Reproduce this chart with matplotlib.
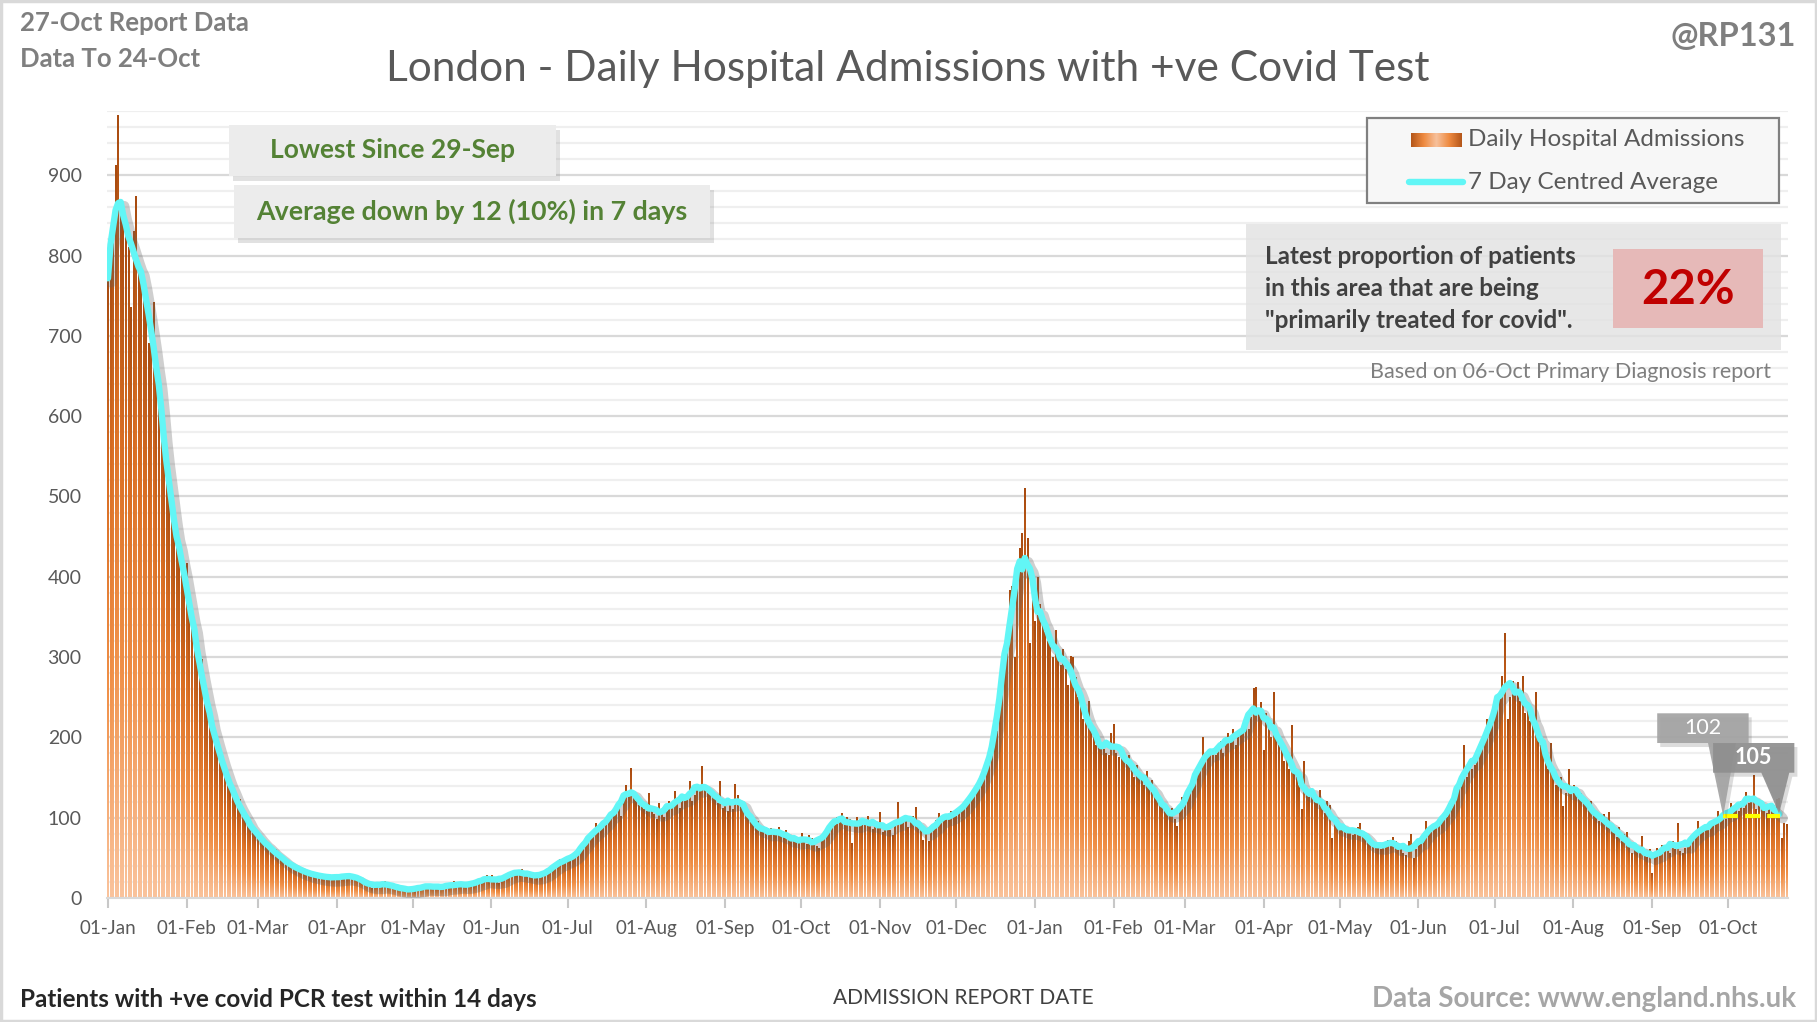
import numpy as np
import pandas as pd
import matplotlib
matplotlib.use("Agg")
import matplotlib.pyplot as plt
from matplotlib.patches import Rectangle, Polygon
from matplotlib.colors import LinearSegmentedColormap
import matplotlib.patheffects as pe

plt.rcParams['font.family'] = ['Lato', 'DejaVu Sans']

# ---------------- data ----------------
START_DATE = "2021-01-01"
# last days of Dec 2020, only used so the centred average exists on 01-Jan
LEAD_IN_DEC2020 = [680, 700, 690]

ADM_2021_0101_0331 = [
    770, 800, 850, 912, 975, 850, 840, 830, 810, 735,
    830, 874, 790, 770, 760, 745, 690, 720, 742, 660,
    630, 610, 575, 540, 505, 490, 455, 460, 440, 405,
    395, 417, 365, 345, 330, 310, 280, 297, 250, 240,
    225, 215, 200, 190, 178, 170, 160, 150, 140, 132,
    125, 118, 123, 105, 98, 95, 92, 86, 82, 78,
    76, 72, 68, 64, 61, 58, 61, 53, 50, 48,
    46, 43, 41, 40, 38, 36, 35, 33, 32, 31,
    30, 29, 28, 28, 27, 27, 26, 26, 25, 25]
ADM_2021_0401_0709 = [
    26, 25, 28, 27, 26, 29, 27, 28, 26, 24,
    22, 20, 18, 17, 12, 16, 17, 18, 16, 20,
    16, 17, 15, 14, 13, 12, 12, 11, 10, 12,
    10, 8, 13, 14, 15, 15, 14, 16, 14, 13,
    14, 13, 15, 14, 13, 16, 20, 17, 16, 16,
    17, 16, 18, 17, 16, 19, 21, 22, 23, 28,
    22, 28, 22, 21, 18, 23, 26, 30, 28, 33,
    32, 30, 31, 35, 32, 30, 28, 26, 31, 25,
    29, 28, 32, 30, 35, 38, 40, 42, 48, 48,
    45, 50, 45, 52, 54, 56, 60, 62, 70, 78]
ADM_2021_0710_1017 = [
    80, 78, 93, 82, 85, 90, 95, 100, 105, 108,
    112, 118, 102, 128, 140, 132, 161, 125, 120, 115,
    118, 110, 108, 130, 112, 104, 98, 118, 105, 100,
    108, 120, 116, 133, 118, 112, 122, 125, 130, 145,
    120, 128, 138, 140, 164, 135, 130, 132, 128, 125,
    118, 145, 112, 115, 108, 118, 110, 141, 128, 115,
    120, 110, 105, 100, 92, 88, 95, 85, 82, 80,
    84, 86, 80, 78, 88, 82, 76, 84, 75, 70,
    74, 72, 68, 80, 72, 66, 78, 74, 70, 64,
    62, 74, 80, 88, 85, 92, 96, 100, 102, 105]
ADM_2021_1018_2022_0125 = [
    92, 100, 98, 68, 95, 100, 97, 92, 98, 102,
    90, 85, 95, 88, 106, 82, 88, 90, 84, 78,
    90, 119, 95, 100, 98, 88, 96, 102, 113, 92,
    88, 72, 86, 70, 82, 90, 96, 105, 94, 98,
    100, 102, 108, 104, 102, 106, 110, 115, 120, 125,
    125, 130, 135, 140, 148, 155, 162, 170, 185, 200,
    207, 240, 284, 296, 330, 383, 388, 300, 400, 435,
    454, 510, 448, 317, 400, 344, 399, 365, 340, 330,
    320, 330, 300, 333, 300, 290, 310, 285, 265, 301,
    300, 275, 250, 240, 222, 230, 245, 210, 200, 190]
ADM_2022_0126_0425 = [
    200, 190, 185, 180, 178, 205, 216, 180, 175, 185,
    180, 172, 177, 160, 150, 165, 155, 148, 140, 157,
    138, 146, 125, 132, 120, 118, 112, 108, 102, 112,
    98, 89, 115, 125, 120, 130, 135, 140, 148, 155,
    165, 200, 170, 175, 180, 185, 178, 190, 195, 180,
    200, 205, 195, 210, 190, 200, 205, 215, 220, 210,
    225, 261, 262, 230, 244, 184, 230, 220, 200, 256,
    205, 190, 185, 170, 180, 160, 215, 155, 150, 140,
    110, 170, 135, 125, 130, 120, 118, 134, 122, 105]
ADM_2022_0426_0803 = [
    120, 115, 74, 100, 95, 90, 92, 85, 80, 82,
    78, 84, 88, 93, 80, 75, 70, 72, 68, 66,
    62, 60, 64, 68, 72, 66, 75, 70, 65, 62,
    55, 53, 70, 79, 49, 60, 65, 70, 78, 95,
    80, 85, 88, 92, 90, 95, 105, 100, 118, 112,
    120, 130, 140, 145, 190, 150, 170, 160, 165, 175,
    185, 190, 200, 222, 210, 215, 230, 240, 250, 276,
    329, 222, 250, 269, 260, 268, 245, 276, 230, 240,
    220, 215, 256, 205, 190, 185, 170, 160, 193, 150,
    140, 145, 150, 114, 130, 160, 135, 140, 128, 125]
ADM_2022_0804_1024 = [
    130, 125, 120, 110, 120, 105, 100, 95, 98, 104,
    90, 107, 85, 80, 75, 88, 70, 79, 82, 65,
    55, 60, 58, 62, 77, 55, 50, 60, 31, 52,
    62, 58, 65, 60, 68, 55, 70, 60, 93, 58,
    55, 62, 68, 72, 75, 78, 95, 80, 85, 88,
    88, 90, 92, 95, 108, 96, 100, 98, 108, 118,
    110, 115, 108, 120, 112, 131, 118, 122, 153, 110,
    115, 118, 110, 105, 115, 112, 115, 123, 124, 74,
    93, 91]

LOWEST_SINCE_DATE = "2022-09-29"
LOWEST_LEVEL = 102
LATEST_AVG = 105
PRIMARY_PCT = "22%"

daily = (ADM_2021_0101_0331 + ADM_2021_0401_0709 + ADM_2021_0710_1017 +
         ADM_2021_1018_2022_0125 + ADM_2022_0126_0425 +
         ADM_2022_0426_0803 + ADM_2022_0804_1024)
daily = np.array(daily, dtype=float)
dates = pd.date_range(START_DATE, periods=len(daily), freq="D")
x = np.arange(len(daily))
full = pd.Series(list(LEAD_IN_DEC2020) + list(daily))
avg = full.rolling(7, center=True).mean().iloc[len(LEAD_IN_DEC2020):].to_numpy()

# ---------------- figure ----------------
W, H = 1817, 1022
fig = plt.figure(figsize=(W / 100, H / 100), dpi=100)
fig.patch.set_facecolor("white")


def fx(px):
    return px / W


def fy(py):
    return 1 - py / H


ax_left, ax_right, ax_top, ax_bottom = 106.7, 1788, 111, 898
ax = fig.add_axes([fx(ax_left), fy(ax_bottom), (ax_right - ax_left) / W, (ax_bottom - ax_top) / H])
ax.set_facecolor("white")

# gradient bars
grad = np.linspace(0, 1, 128).reshape(-1, 1)
bar_cmap = LinearSegmentedColormap.from_list(
    "adm", ["#fac39c", "#f09048", "#da6f24", "#a84b10"])
bw = 0.31
for xi, h in zip(x, daily):
    ax.imshow(grad, cmap=bar_cmap, extent=(xi - bw, xi + bw, 0, h), origin="lower",
              aspect="auto", interpolation="bilinear", zorder=2)

# 7 day centred average
ax.plot(x, avg, color="#62f6f6", lw=4.6, zorder=5, solid_capstyle="round",
        solid_joinstyle="round",
        path_effects=[pe.SimpleLineShadow(offset=(2.5, -3), shadow_color="#606060",
                                          alpha=0.3, linewidth=7.5),
                      pe.Normal()])

# lowest-since level
since_idx = int(np.where(dates == pd.Timestamp(LOWEST_SINCE_DATE))[0][0])
last_avg_idx = int(np.where(~np.isnan(avg))[0][-1])
ax.hlines(LOWEST_LEVEL, since_idx, last_avg_idx + 0.5, colors="#ffff00",
          linestyles=(0, (3.6, 1.7)), lw=3.0, zorder=6)


# callouts
def callout(x0, x1, y0, y1, base0, base1, tip, face, alpha, label, weight):
    poly = [(x0, y1), (x1, y1), (x1, y0), (base1, y0), tip, (base0, y0), (x0, y0)]
    sh = Polygon([(px + 1.2, py - 5) for px, py in poly], closed=True,
                 facecolor="#404040", alpha=0.18, edgecolor="none", zorder=7, clip_on=False)
    ax.add_patch(sh)
    ax.add_patch(Polygon(poly, closed=True, facecolor=face, alpha=alpha,
                         edgecolor="none", zorder=8, clip_on=False))
    ax.text((x0 + x1) / 2, (y0 + y1) / 2, label, color="white", fontsize=15.5,
            fontweight=weight, ha="center", va="center", zorder=9, clip_on=False)


callout(610, 646, 193, 230, 630, 641, (since_idx, LOWEST_LEVEL), "#a3a3a3", 0.92,
        str(LOWEST_LEVEL), "normal")
callout(632, 664, 156, 193, 651, 662, (last_avg_idx, LATEST_AVG), "#8f8f8f", 0.92,
        str(LATEST_AVG), "bold")

# axes styling
ax.set_xlim(-0.5, len(daily) - 0.5)
ax.set_ylim(0, 980)
ax.set_yticks(np.arange(0, 1000, 100))
ax.set_yticks(np.arange(0, 981, 20), minor=True)
ax.yaxis.grid(True, which="major", color="#d9d9d9", lw=1.6, zorder=0)
ax.yaxis.grid(True, which="minor", color="#efefef", lw=1.6, zorder=0)
ax.set_axisbelow(True)
month_starts = np.where(dates.day == 1)[0]
ax.set_xticks(month_starts)
ax.set_xticklabels(dates[month_starts].strftime("%d-%b"))
ax.tick_params(axis="x", length=7, width=1.5, color="#c8c8c8", labelsize=13.5,
               labelcolor="#595959", pad=9)
ax.tick_params(axis="y", which="both", length=0, labelsize=14, labelcolor="#595959", pad=18)
for s in ["top", "right", "left"]:
    ax.spines[s].set_visible(False)
ax.spines["bottom"].set_color("#d9d9d9")
ax.spines["bottom"].set_linewidth(1.5)

# ---------------- texts & boxes ----------------
fig.text(fx(20), fy(23), "27-Oct Report Data", fontsize=18.5, fontweight="bold",
         color="#7f7f7f", ha="left", va="center")
fig.text(fx(20), fy(59), "Data To 24-Oct", fontsize=18.5, fontweight="bold",
         color="#7f7f7f", ha="left", va="center")
fig.text(fx(1796), fy(36), "@RP131", fontsize=23.5, fontweight="bold",
         color="#7f7f7f", ha="right", va="center")
fig.text(fx(908), fy(69), "London - Daily Hospital Admissions with +ve Covid Test",
         fontsize=30.5, color="#595959", ha="center", va="center")


def shadow_box(px0, py0, px1, py1, face, text, tsize, tcolor, tweight="bold"):
    fig.add_artist(Rectangle((fx(px0 + 4), fy(py1 + 5)), fx(px1 - px0), (py1 - py0) / H,
                             transform=fig.transFigure, facecolor="#7a7a7a", alpha=0.22,
                             edgecolor="none", zorder=3))
    fig.add_artist(Rectangle((fx(px0), fy(py1)), fx(px1 - px0), (py1 - py0) / H,
                             transform=fig.transFigure, facecolor=face,
                             edgecolor="none", zorder=4))
    fig.text(fx((px0 + px1) / 2), fy((py0 + py1) / 2), text, fontsize=tsize,
             fontweight=tweight, color=tcolor, ha="center", va="center", zorder=5)


shadow_box(229, 125, 556, 176, "#ececec", "Lowest Since 29-Sep", 19, "#548235")
shadow_box(234, 185, 710, 238, "#ececec", "Average down by 12 (10%) in 7 days", 19.3, "#548235")

# legend
fig.add_artist(Rectangle((fx(1367), fy(203)), fx(1779 - 1367), (203 - 118) / H,
                         transform=fig.transFigure, facecolor="#f7f7f7",
                         edgecolor="#808080", lw=1.6, zorder=4))
lax = fig.add_axes([fx(1411), fy(147), fx(1462 - 1411), 14 / H], zorder=6)
lgrad = np.concatenate([np.linspace(0, 1, 64), np.linspace(1, 0, 64)]).reshape(1, -1)
lax.imshow(lgrad, cmap=LinearSegmentedColormap.from_list("lg", ["#b4561a", "#ee8a40", "#f7c09a"]),
           aspect="auto", interpolation="bilinear")
lax.axis("off")
fig.add_artist(plt.Line2D([fx(1409), fx(1463)], [fy(182), fy(182)], transform=fig.transFigure,
                          color="#62f6f6", lw=4.6, solid_capstyle="round", zorder=6))
fig.text(fx(1468), fy(140), "Daily Hospital Admissions", fontsize=17.5, color="#595959",
         ha="left", va="center", zorder=6)
fig.text(fx(1468), fy(182), "7 Day Centred Average", fontsize=17.5, color="#595959",
         ha="left", va="center", zorder=6)

# primary diagnosis box
fig.add_artist(Rectangle((fx(1246), fy(350)), fx(1781 - 1246), (350 - 224) / H,
                         transform=fig.transFigure, facecolor="#e2e2e2", alpha=0.8,
                         edgecolor="none", zorder=4))
for i, line in enumerate(["Latest proportion of patients", "in this area that are being",
                          "\"primarily treated for covid\"."]):
    fig.text(fx(1265), fy(256 + i * 32.5), line, fontsize=17.5, fontweight="bold",
             color="#404040", ha="left", va="center", zorder=5)
fig.add_artist(Rectangle((fx(1613), fy(328)), fx(1763 - 1613), (328 - 249) / H,
                         transform=fig.transFigure, facecolor="#e6b9b8",
                         edgecolor="none", zorder=5))
fig.text(fx(1688), fy(290), PRIMARY_PCT, fontsize=34, fontweight="bold", color="#c00000",
         ha="center", va="center", zorder=6)
fig.text(fx(1771), fy(372), "Based on 06-Oct Primary Diagnosis report", fontsize=15.5,
         color="#7f7f7f", ha="right", va="center", zorder=5)

# footer
fig.text(fx(20), fy(999), "Patients with +ve covid PCR test within 14 days", fontsize=17.5,
         fontweight="bold", color="#262626", ha="left", va="center")
fig.text(fx(963), fy(998), "ADMISSION REPORT DATE", fontsize=15, color="#404040",
         ha="center", va="center")
fig.text(fx(1796), fy(999), "Data Source: www.england.nhs.uk", fontsize=20,
         fontweight="bold", color="#a6a6a6", ha="right", va="center")

fig.add_artist(Rectangle((0.0008, 0.0012), 0.9984, 0.9976, transform=fig.transFigure,
                         fill=False, edgecolor="#d9d9d9", lw=2.5, zorder=10))

fig.savefig("out.png", dpi=100, facecolor="white")
